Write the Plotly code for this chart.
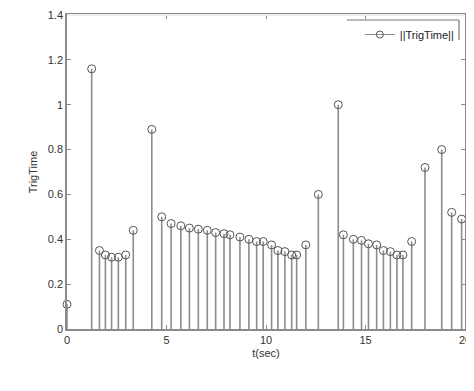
import plotly.graph_objects as go

t_sec = [0, 1.24, 1.63, 1.93, 2.24, 2.58, 2.95, 3.33, 4.26, 4.76, 5.23, 5.72,
         6.15, 6.6, 7.05, 7.47, 7.89, 8.19, 8.69, 9.14, 9.53, 9.86, 10.28,
         10.6, 10.95, 11.29, 11.54, 12.0, 12.63, 13.63, 13.89, 14.39, 14.8,
         15.15, 15.56, 15.9, 16.25, 16.58, 16.88, 17.32, 17.99, 18.83, 19.33, 19.83]
trig_time = [0.11, 1.16, 0.35, 0.33, 0.32, 0.32, 0.33, 0.44, 0.89, 0.50, 0.47, 0.46,
             0.45, 0.445, 0.44, 0.43, 0.425, 0.42, 0.41, 0.40, 0.39, 0.39, 0.375,
             0.35, 0.345, 0.33, 0.33, 0.375, 0.60, 1.00, 0.42, 0.40, 0.395,
             0.38, 0.375, 0.35, 0.345, 0.33, 0.33, 0.39, 0.72, 0.80, 0.52, 0.49]
x_ticks = [0, 5, 10, 15, 20]
y_ticks = [0, 0.2, 0.4, 0.6, 0.8, 1, 1.2, 1.4]
y_tick_labels = ["0", "0.2", "0.4", "0.6", "0.8", "1", "1.2", "1.4"]
legend_name = "||TrigTime||"

stem_color = "#8c8c8c"
marker_color = "#555555"
axis_color = "#8a8a8a"
font = "Liberation Sans, Arial, sans-serif"

fig = go.Figure()
fig.add_trace(go.Scatter(
    x=t_sec, y=trig_time, mode="markers", showlegend=False,
    marker=dict(symbol="circle-open", size=8, color=marker_color, line=dict(width=1)),
    error_y=dict(type="data", symmetric=False, array=[0] * len(trig_time),
                 arrayminus=trig_time, color=stem_color, thickness=1.6, width=0),
    cliponaxis=False,
))
fig.add_trace(go.Scatter(
    x=[None], y=[None], mode="lines+markers", name=legend_name,
    line=dict(color=stem_color, width=1.2),
    marker=dict(symbol="circle-open", size=7, color=marker_color),
))

# page body has an 8px margin, so the figure is sized/offset to compensate
fig.update_layout(
    width=466, height=383,
    margin=dict(l=59, r=9, t=7, b=62, autoexpand=False),
    paper_bgcolor="white", plot_bgcolor="white",
    font=dict(family=font, size=11, color="#333333"),
    showlegend=True,
    legend=dict(x=0.987, y=0.984, xanchor="right", yanchor="top",
                bgcolor="rgba(255,255,255,0)", borderwidth=0,
                font=dict(size=11, color="#222222"),
                itemwidth=30, tracegroupgap=0),
    xaxis=dict(range=[0, 20], tickvals=x_ticks, showgrid=False, zeroline=False,
               automargin=False,
               showline=True, linecolor=axis_color, linewidth=1.5, mirror="ticks",
               ticks="inside", ticklen=4, tickcolor=axis_color,
               title=dict(text="t(sec)", standoff=4, font=dict(size=11))),
    yaxis=dict(range=[0, 1.4], tickvals=y_ticks, ticktext=y_tick_labels,
               showgrid=False, zeroline=False, automargin=False,
               showline=True, linecolor=axis_color, linewidth=1.5, mirror="ticks",
               ticks="inside", ticklen=4, tickcolor=axis_color,
               title=dict(text="TrigTime", standoff=8, font=dict(size=11))),
    shapes=[
        dict(type="line", xref="paper", yref="paper", x0=0, x1=1, y0=1, y1=1,
             line=dict(color="#ededed", width=2), layer="above"),
        dict(type="line", xref="paper", yref="paper", x0=0.7035, x1=0.985,
             y0=0.984, y1=0.984, line=dict(color="#777777", width=1.2), layer="above"),
        dict(type="line", xref="paper", yref="paper", x0=0.985, x1=0.985,
             y0=0.984, y1=0.92, line=dict(color="#777777", width=1.2), layer="above"),
    ],
)

fig.write_html("out.html")
